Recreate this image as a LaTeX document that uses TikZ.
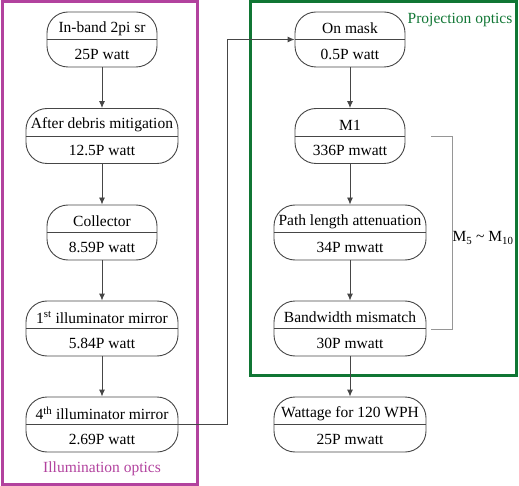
\documentclass[tikz,border=0pt]{standalone}
\usepackage{fontspec}
\setmainfont{Liberation Serif}
\usetikzlibrary{arrows.meta,calc}
\definecolor{illum}{RGB}{178,66,158}
\definecolor{proj}{RGB}{16,118,52}
\definecolor{lineg}{RGB}{70,70,70}
\definecolor{brack}{RGB}{150,150,150}
\tikzset{
  stage/.style={draw=lineg, line width=0.9pt, rounded corners=21pt, minimum height=55pt, inner sep=0pt},
  narrow/.style={stage, minimum width=110pt},
  wide/.style={stage, minimum width=152pt},
  txt/.style={font=\fontsize{15.5}{18}\selectfont, inner sep=0pt, anchor=center},
  flow/.style={draw=lineg, line width=0.9pt, -{Latex[length=7pt,width=6pt]}},
  divider/.style={draw=lineg, line width=0.9pt},
  groupbox/.style={line width=3pt},
}
\newcommand{\stagebox}[5]{%
  \node[#1] (#2) at (#3) {};
  \draw[divider] (#2.west) -- (#2.east);
  \node[txt] (#2t) at ($(#2.center)+(0,-11)$) {#4};
  \node[txt] (#2b) at ($(#2.center)+(0,14.5)$) {#5};
}
\begin{document}
\begin{tikzpicture}[x=1pt,y=-1pt]
\useasboundingbox (0,0) rectangle (519,486);
% group frames
\draw[groupbox, draw=illum] (2,2) rectangle (197,484);
\draw[groupbox, draw=proj] (250,2) rectangle (516,375);
\node[txt, text=illum] (illumlab) at (102,469) {Illumination optics};
\node[txt, text=proj] (projlab) at (460,20) {Projection optics};
% left column
\stagebox{narrow}{a1}{102,39.5}{In-band 2pi sr}{25P watt}
\stagebox{wide}{a2}{102,136}{After debris mitigation}{12.5P watt}
\stagebox{narrow}{a3}{102,232.5}{Collector}{8.59P watt}
\stagebox{wide}{a4}{102,328.5}{1\textsuperscript{st} illuminator mirror}{5.84P watt}
\stagebox{wide}{a5}{102,424.5}{4\textsuperscript{th} illuminator mirror}{2.69P watt}
% right column
\stagebox{narrow}{b1}{350,39.5}{On mask}{0.5P watt}
\stagebox{narrow}{b2}{350,136}{M1}{336P mwatt}
\stagebox{wide}{b3}{350,232.5}{Path length attenuation}{34P mwatt}
\stagebox{wide}{b4}{350,328.5}{Bandwidth mismatch}{30P mwatt}
\stagebox{wide}{b5}{350,424.5}{Wattage for 120 WPH}{25P mwatt}
% connectors
\draw[flow] (a1) -- (a2);
\draw[flow] (a2) -- (a3);
\draw[flow] (a3) -- (a4);
\draw[flow] (a4) -- (a5);
\coordinate (turn) at (227,424.5);
\draw[flow] (a5.east) -- (turn) |- (b1.west);
\draw[flow] (b1) -- (b2);
\draw[flow] (b2) -- (b3);
\draw[flow] (b3) -- (b4);
\draw[flow] (b4) -- (b5);
% bracket
\coordinate (bt) at (431,136);
\coordinate (bb) at (431,329);
\draw[draw=brack, line width=0.9pt] (bt) -- ++(21,0) |- (bb);
\node[txt] (mlab) at (483,238) {M\textsubscript{5} \textasciitilde{} M\textsubscript{10}};
\end{tikzpicture}
\end{document}
